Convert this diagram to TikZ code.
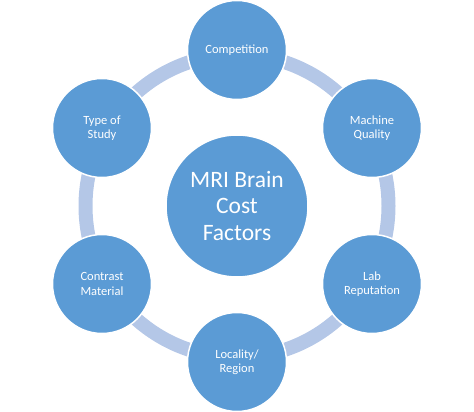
\documentclass[tikz,border=0pt]{standalone}
\usepackage{fontspec}
\setmainfont{Carlito}
\definecolor{nodeblue}{HTML}{5B9BD5}
\definecolor{ringblue}{HTML}{B4C7E7}
\begin{document}
\begin{tikzpicture}[x=1pt,y=1pt,
  outer/.style={circle, fill=nodeblue, draw=white, line width=1.5pt, minimum size=99pt, inner sep=0pt,
    text=white, align=center, font=\fontsize{12.5}{14.5}\selectfont},
  hub/.style={circle, fill=nodeblue, draw=white, line width=1.5pt, minimum size=142pt, inner sep=0pt,
    text=white, align=center, font=\fontsize{23.5}{26.5}\selectfont},
  ring/.style={draw=ringblue, line width=14pt}]
\useasboundingbox (0,0) rectangle (474,412);
\coordinate (c) at (237,206);
\draw[ring] (c) circle (151.5);
\node[hub] (hub) at (c) {MRI Brain\\Cost\\Factors};
\node[outer] (comp) at (237,362) {Competition};
\node[outer] (mq) at (372,284) {Machine\\Quality};
\node[outer] (lr) at (372,128) {Lab\\Reputation};
\node[outer] (loc) at (237,50) {Locality/\\Region};
\node[outer] (cm) at (102,128) {Contrast\\Material};
\node[outer] (ts) at (102,284) {Type of\\Study};
\end{tikzpicture}
\end{document}
